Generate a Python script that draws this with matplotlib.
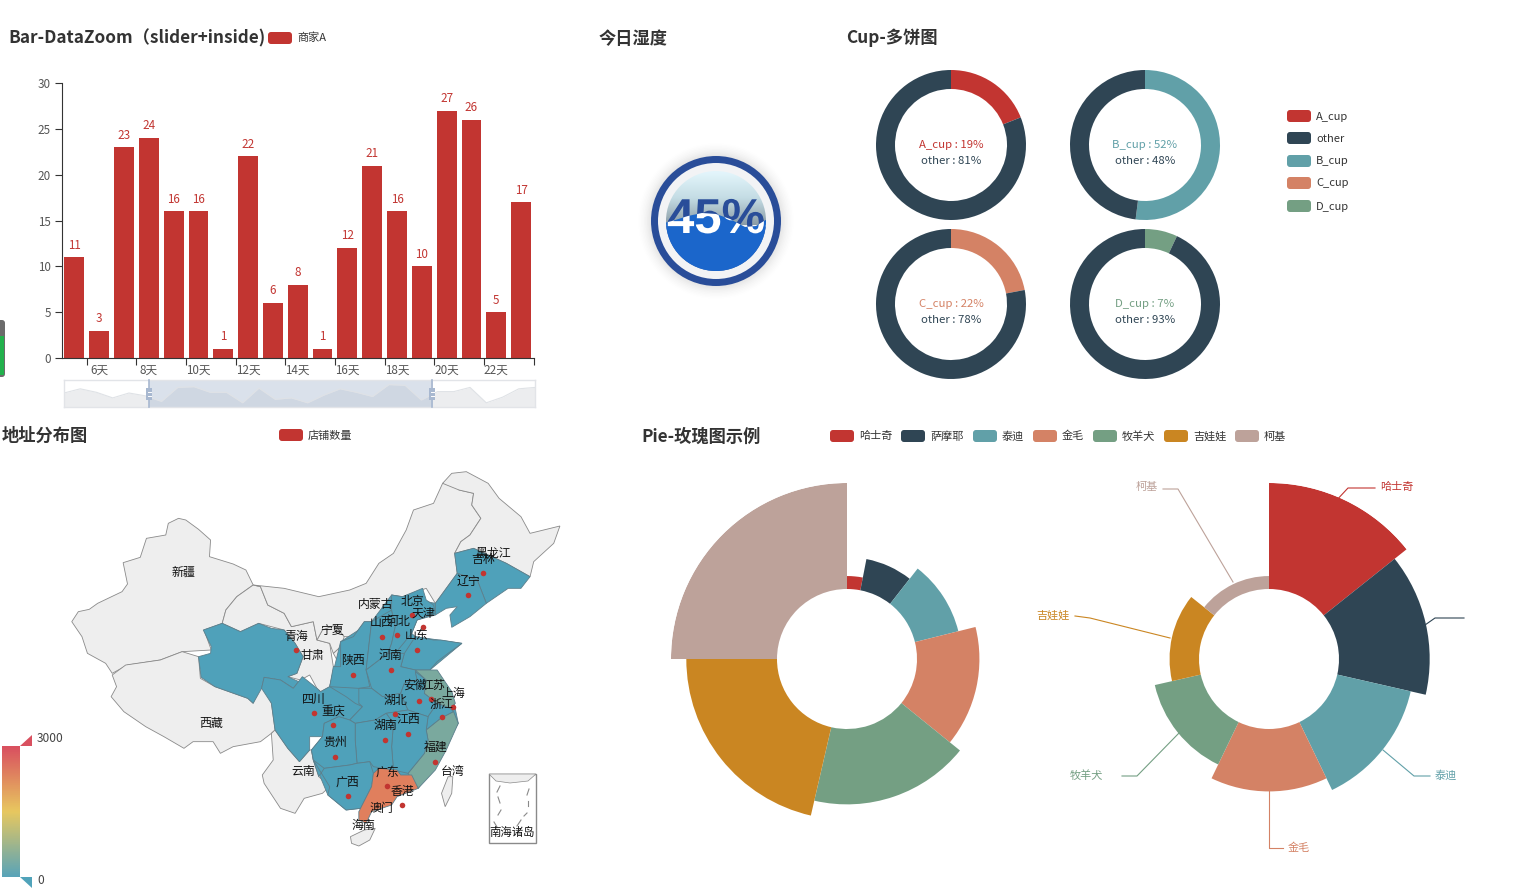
import numpy as np
import matplotlib
matplotlib.use("Agg")
import matplotlib.pyplot as plt
import matplotlib.patheffects as pe
from matplotlib.patches import Circle, Polygon, Rectangle, FancyBboxPatch
from matplotlib.colors import LinearSegmentedColormap

plt.rcParams['font.family'] = ['Noto Sans CJK SC', 'DejaVu Sans']

W, H = 1513, 894

# ---- data ----
COLORS = ["#c23531", "#2f4554", "#61a0a8", "#d48265", "#749f83", "#ca8622", "#bda29a"]

days = list(range(30))
shop_a = [15, 21, 16, 8, 15, 11, 3, 23, 24, 16, 16, 1, 22, 6, 8, 1, 12, 21, 16, 10,
          27, 26, 5, 17, 17, 23, 1, 9, 21, 23]
win_start, win_end = 5, 23

cup_names = ["A_cup", "B_cup", "C_cup", "D_cup"]
cup_values = [19, 52, 22, 7]

dog_names = ["哈士奇", "萨摩耶", "泰迪", "金毛", "牧羊犬", "吉娃娃", "柯基"]
rose_left = [11, 27, 38, 53, 64, 77, 90]
rose_right = [90, 77, 64, 53, 40, 25, 11]

humidity = 45

province_dots = [(1326, 400), (1285, 466), (1131, 525), (1160, 562), (1048, 591), (1091, 586),
                 (1145, 629), (813, 631), (969, 706), (1072, 690), (1150, 782), (1183, 776),
                 (1243, 802), (1214, 832), (863, 820), (915, 856), (1085, 822), (1057, 899),
                 (1120, 883), (1195, 966), (920, 950), (955, 1069), (1063, 1037), (1104, 1096)]

province_labels = {"黑龙江": (1355, 340), "吉林": (1325, 360), "辽宁": (1285, 425), "内蒙古": (1030, 493),
                   "北京": (1132, 483), "天津": (1162, 518), "河北": (1093, 543), "山西": (1048, 548),
                   "山东": (1145, 585), "宁夏": (912, 570), "青海": (812, 588), "甘肃": (858, 647),
                   "陕西": (970, 662), "河南": (1072, 647), "安徽": (1140, 737), "江苏": (1190, 737),
                   "上海": (1245, 760), "浙江": (1212, 792), "湖北": (1085, 780), "四川": (862, 777),
                   "重庆": (915, 813), "江西": (1120, 840), "湖南": (1057, 855), "贵州": (920, 908),
                   "福建": (1195, 923), "云南": (833, 995), "广东": (1063, 996), "广西": (955, 1027),
                   "香港": (1105, 1053), "澳门": (1048, 1106), "海南": (998, 1156), "台湾": (1243, 996),
                   "新疆": (503, 398), "西藏": (580, 850)}

# province outlines, rough
GRAY, BLUE, GREEN, ORANGE = "#eeeeee", "#4fa1ba", "#7aa99e", "#e07f5d"
blue_backing = [(905,740),(935,605),(1020,545),(1075,465),(1195,490),(1195,525),(1145,540),(1130,580),(1140,590),
                (1268,610),(1180,690),(1240,755),(1258,850),(1148,1045),(1025,1000),(990,1105),(950,1110),(900,1065),
                (860,960),(855,930),(885,890),(890,850)]
provinces = [
    (GRAY, [(197,545),(215,515),(245,508),(268,490),(335,455),(350,432),(338,368),(385,352),(402,295),(455,285),
            (462,250),(490,235),(510,240),(545,268),(578,300),(575,350),(640,372),(675,390),(695,435),(650,470),
            (620,510),(610,550),(560,570),(580,630),(500,635),(440,660),(350,675),(308,700),(290,670),(240,640),(225,590)]),
    (GRAY, [(308,705),(345,675),(440,660),(500,635),(545,650),(550,715),(590,740),(680,775),(695,790),(720,710),
            (745,790),(755,870),(745,880),(715,905),(640,920),(605,940),(585,905),(530,905),(505,925),(450,890),
            (400,860),(340,815),(305,770),(320,740)]),
    # gansu
    (GRAY, [(610,550),(620,510),(650,470),(695,435),(715,440),(735,495),(780,520),(800,560),(860,545),(870,600),
            (905,610),(915,680),(935,680),(915,640),(935,620),(960,650),(915,690),(905,740),(880,755),(870,745),
            (850,705),(825,720),(790,710),(815,700),(832,650),(810,610),(780,570),(710,550),(660,575)]),
    # ningxia
    (GRAY, [(870,600),(885,570),(920,555),(945,590),(935,620),(915,640),(905,610)]),
    # inner mongolia
    (GRAY, [(695,435),(780,445),(875,470),(960,450),(1005,430),(1040,370),(1080,340),(1115,270),(1135,210),(1190,190),
            (1215,130),(1240,120),(1260,150),(1300,160),(1295,195),(1320,235),(1290,285),(1265,305),(1248,340),(1255,400),
            (1195,490),(1170,445),(1105,470),(1075,465),(1075,510),(1020,545),(1000,545),(970,590),(945,590),(920,555),
            (885,570),(870,600),(860,545),(800,560),(780,520),(735,495),(715,440)]),
    # heilongjiang
    (GRAY, [(1215,130),(1240,100),(1280,95),(1340,130),(1370,175),(1430,230),(1455,280),(1537,258),(1520,310),(1465,365),
            (1455,410),(1390,370),(1340,345),(1300,325),(1248,340),(1265,305),(1290,285),(1320,235),(1295,195),(1300,160),(1260,150)]),
    # yunnan
    (GRAY, [(745,880),(755,870),(790,925),(822,965),(850,930),(855,930),(860,960),(875,1010),(905,1040),(885,1060),
            (835,1075),(810,1120),(770,1105),(725,1030),(720,1005),(750,960)]),
    # hainan, taiwan
    (GRAY, [(962,1190),(1000,1170),(1030,1165),(1015,1200),(985,1218),(965,1210)]),
    (GRAY, [(1230,1010),(1243,1010),(1240,1060),(1222,1100),(1212,1060)]),
    (BLUE, blue_backing),
    # qinghai
    (BLUE, [(558,570),(610,550),(660,575),(710,550),(745,565),(780,570),(810,610),(832,650),(815,700),(790,710),
            (820,725),(805,745),(770,720),(725,712),(718,745),(695,790),(680,775),(590,740),(552,712),(545,650),(578,640),(580,620)]),
    # sichuan
    (BLUE, [(725,712),(770,720),(805,745),(830,710),(870,745),(880,755),(905,740),(950,770),(975,790),(995,800),
            (960,840),(930,830),(890,850),(885,890),(850,890),(850,930),(822,965),(790,925),(755,870),(745,790),(718,745)]),
    # shaanxi, shanxi, hebei, shandong, henan
    (BLUE, [(915,680),(935,680),(935,605),(970,590),(1000,545),(1020,545),(1005,690),(1015,740),(985,745),(905,740)]),
    (BLUE, [(1020,545),(1075,510),(1085,560),(1075,610),(1065,640),(1005,690)]),
    (BLUE, [(1075,465),(1105,470),(1160,445),(1170,480),(1190,495),(1195,520),(1145,540),(1130,580),(1085,640),(1065,640),(1075,610),(1085,560),(1075,510)]),
    (BLUE, [(1110,640),(1140,590),(1190,600),(1210,600),(1268,610),(1230,640),(1200,665),(1180,690),(1140,690),(1100,680)]),
    (BLUE, [(1005,690),(1065,640),(1110,640),(1100,680),(1140,690),(1145,720),(1110,730),(1100,760),(1050,770),(1020,745)]),
    # hubei, anhui
    (BLUE, [(985,790),(985,745),(1020,745),(1050,770),(1100,760),(1120,810),(1060,820),(1030,840),(975,850),(960,840),(995,800)]),
    (BLUE, [(1110,730),(1145,720),(1140,695),(1170,720),(1165,760),(1200,790),(1175,830),(1120,810),(1100,760)]),
    # jiangsu, zhejiang, fujian
    (GREEN, [(1140,690),(1180,690),(1200,690),(1240,755),(1250,790),(1235,805),(1200,790),(1165,760),(1170,720)]),
    (BLUE, [(1175,830),(1200,790),(1235,805),(1245,815),(1210,835),(1170,870)]),
    (GREEN, [(1170,870),(1210,835),(1245,815),(1258,850),(1225,930),(1195,990),(1148,1045),(1120,1000),(1165,940),(1175,900)]),
    # jiangxi, hunan, guizhou, guangxi
    (BLUE, [(1120,810),(1175,830),(1170,870),(1175,900),(1165,940),(1120,1000),(1080,990),(1075,920),(1080,850),(1060,820)]),
    (BLUE, [(975,850),(1030,840),(1060,820),(1080,850),(1075,920),(1080,990),(1025,980),(1015,965),(980,970),(975,900)]),
    (BLUE, [(855,930),(885,890),(890,850),(930,830),(960,840),(975,850),(975,900),(980,970),(960,975),(890,985),(860,960)]),
    (BLUE, [(860,960),(875,1010),(890,985),(960,975),(980,970),(1015,965),(1025,1000),(1020,1040),(990,1105),(950,1110),(900,1065),(905,1040)]),
    # jilin, liaoning
    (BLUE, [(1248,340),(1300,325),(1340,345),(1390,370),(1455,410),(1430,445),(1395,445),(1335,490),(1310,420),(1255,400)]),
    (BLUE, [(1195,490),(1255,400),(1310,420),(1335,490),(1290,530),(1240,562),(1235,525),(1255,500),(1225,505),(1195,525)]),
    # guangdong
    (ORANGE, [(1025,1000),(1040,985),(1090,990),(1100,1005),(1130,1005),(1148,1045),(1090,1070),(1075,1095),(1020,1115),
              (1005,1150),(985,1140),(985,1115),(1020,1040)]),
]


def mx(zx):
    return zx / 2.745


def my(zy):
    return 440 + zy / 3


def axes_px(x0, y0, x1, y1, **kw):
    return fig.add_axes([x0 / W, 1 - y1 / H, (x1 - x0) / W, (y1 - y0) / H], **kw)


def legend_item(x, y, color, label):
    ov.add_patch(FancyBboxPatch((x, y - 6), 24, 12, boxstyle="round,pad=0,rounding_size=3", fc=color, ec="none"))
    ov.text(x + 29, y + 3.5, label, fontsize=8, color="#333333", va="baseline", ha="left")


def gauge_text(color, zorder, clip):
    # Normal path effect makes the text go through draw_path, which honours the clip path
    t = ov.text(cx, 233, f"{humidity}%", fontsize=35.3, fontweight="bold", family="Liberation Sans",
                color=color, ha="center", va="baseline", zorder=zorder)
    t.set_path_effects([pe.Normal()])
    t.set_clip_on(True)
    t.set_clip_path(clip)
    return t


fig = plt.figure(figsize=(W / 100, H / 100), dpi=100, facecolor="white")

# overlay in pixel coords, for titles, legends, map and the liquid gauge
ov = fig.add_axes([0, 0, 1, 1], zorder=5)
ov.set_xlim(0, W)
ov.set_ylim(H, 0)
ov.axis("off")
ov.patch.set_alpha(0)

for x, y, s in [(8, 38, "Bar-DataZoom（slider+inside)"), (599, 39, "今日湿度"), (846, 38, "Cup-多饼图"),
                (2, 436, "地址分布图"), (641, 437, "Pie-玫瑰图示例")]:
    ov.text(x, y, s, fontsize=12.4, fontweight="bold", color="#333333", va="center", ha="left")

legend_item(268, 38, COLORS[0], "商家A")
legend_item(279, 435, COLORS[0], "店铺数量")

# ---- bar chart ----
ax = axes_px(62, 83, 533.5, 358)
visible_days = days[win_start:win_end + 1]
visible = shop_a[win_start:win_end + 1]
bars = ax.bar(visible_days, visible, width=0.8, color=COLORS[0])
ax.bar_label(bars, padding=4, fontsize=8.4, color=COLORS[0])
ax.set_xlim(win_start - 0.5, win_end + 0.5)
ax.set_ylim(0, 30)
ax.spines[["top", "right"]].set_visible(False)
ax.spines["left"].set_color("#333333")
ax.spines["bottom"].set_color("#333333")
ax.set_yticks(range(0, 31, 5))
ax.tick_params(axis="y", labelsize=8.4, labelcolor="#555555", length=5, width=0.8, color="#333333", pad=3)
ax.set_xticks([d - 0.5 for d in visible_days[1::2]] + [win_end + 0.5])
ax.set_xticklabels([])
ax.tick_params(axis="x", length=5, width=0.8, color="#333333")
for d in visible_days[1::2]:
    ax.annotate(f"{d}天", (d, 0), xytext=(0, -9), textcoords="offset points", ha="center", va="center",
                fontsize=8.4, color="#555555", annotation_clip=False)

# ---- slider ----
sl = axes_px(64, 380, 535, 407)
sl.fill_between(days, shop_a, -5, color="#ecedef", lw=0)
sl.plot(days, shop_a, color="#dfe2e6", lw=0.8)
sl.axvspan(days[win_start] + 0.22, days[win_end] - 0.3, color="#a9b9d0", alpha=0.42, lw=0)
sl.set_xlim(days[0], days[-1])
sl.set_ylim(-5, 33.6)
sl.set_xticks([])
sl.set_yticks([])
for s in sl.spines.values():
    s.set_color("#e2e4e8")
    s.set_linewidth(1)
for x in (149, 432):
    ov.plot([x, x], [380, 407], color="#a8b8d0", lw=1.2)
    ov.add_patch(Rectangle((x - 3, 388), 6, 12, fc="#a8b8d0", ec="none"))
    ov.plot([x - 1.5, x + 1.5], [392, 392], color="white", lw=0.7)
    ov.plot([x - 1.5, x + 1.5], [396, 396], color="white", lw=0.7)

# scrollbar stub on left edge
ov.add_patch(FancyBboxPatch((-6, 320), 11, 57, boxstyle="round,pad=0,rounding_size=3", fc="#6b6b6b", ec="none"))
ov.add_patch(Rectangle((0, 336), 4, 39, fc="#22b14c", ec="none"))

# ---- liquid gauge ----
cx, cy = 716, 221
for r, a in zip(np.arange(78, 65, -1.5), np.linspace(0.004, 0.025, 9)):
    ov.add_patch(Circle((cx, cy), r, fc="#555555", ec="none", alpha=a))
ov.add_patch(Circle((cx, cy), 65, fc="#294d99", ec="none"))
ov.add_patch(Circle((cx, cy), 58, fc="#f2f3f5", ec="none"))
inner = Circle((cx, cy), 50, fc="none", ec="none")
ov.add_patch(inner)
sky = LinearSegmentedColormap.from_list("sky", ["#e4f6fc", "#c4dce4", "#8b9ca6"])
im = ov.imshow(np.linspace(0, 1, 64).reshape(-1, 1), cmap=sky, extent=(cx - 50, cx + 50, 225, 171),
               aspect="auto", zorder=2)
im.set_clip_path(inner)
ov.set_xlim(0, W)
ov.set_ylim(H, 0)
gauge_text("#294d99", 3, inner)
wave2 = Polygon([(660, 226), (680, 224), (695, 222), (715, 224), (735, 228), (745, 235), (758, 232), (772, 222), (772, 280), (660, 280)],
                fc="#2a5aa8", ec="none", zorder=4)
ov.add_patch(wave2)
wave2.set_clip_path(inner)
wave = Polygon([(660, 224), (672, 221), (688, 216), (702, 213), (716, 214), (730, 219), (745, 227), (756, 226), (772, 216), (772, 280), (660, 280)],
               fc="#1b66cb", ec="none", zorder=5)
ov.add_patch(wave)
wave.set_clip_path(inner)
gauge_text("white", 6, wave)

# ---- cup donuts ----
centers = [(951, 145), (1145, 145), (951, 304), (1145, 304)]
for i, (name, val, (x, y)) in enumerate(zip(cup_names, cup_values, centers)):
    a = axes_px(x - 76, y - 76, x + 76, y + 76)
    a.pie([val, 100 - val], colors=[COLORS[[0, 2, 3, 4][i]], COLORS[1]], startangle=90, counterclock=False,
          radius=75 / 76, wedgeprops=dict(width=19 / 76, lw=0))
    a.set_xlim(-1, 1)
    a.set_ylim(-1, 1)
    col = COLORS[[0, 2, 3, 4][i]]
    ov.text(x, y, f"{name} : {val}%", fontsize=8.2, color=col, ha="center", va="center")
    ov.text(x, y + 16, f"other : {100 - val}%", fontsize=8.2, color=COLORS[1], ha="center", va="center")

for y, col, lab in zip([116, 138, 161, 183, 206], [COLORS[0], COLORS[1], COLORS[2], COLORS[3], COLORS[4]],
                       ["A_cup", "other", "B_cup", "C_cup", "D_cup"]):
    legend_item(1287, y, col, lab)

# ---- rose charts ----
R0, R1 = 70, 176


def rose(cx_, cy_, values, equal_angle):
    a = axes_px(cx_ - R1, cy_ - R1, cx_ + R1, cy_ + R1, projection="polar")
    a.set_theta_zero_location("N")
    a.set_theta_direction(-1)
    vals = np.array(values, dtype=float)
    if equal_angle:
        widths = np.full(len(vals), 2 * np.pi / len(vals))
    else:
        widths = vals / vals.sum() * 2 * np.pi
    starts = np.concatenate([[0], np.cumsum(widths)[:-1]])
    heights = (R1 - R0) * vals / vals.max()
    a.bar(starts, heights, width=widths, bottom=R0, align="edge", color=COLORS[:len(vals)], lw=0)
    a.set_ylim(0, R1)
    a.axis("off")


rose(847, 659, rose_left, False)
rose(1269, 659, rose_right, True)

for x, col, lab in zip([830, 901, 973, 1033, 1093, 1164, 1235], COLORS, dog_names):
    legend_item(x, 436, col, lab)

# leader lines of the right rose chart
leaders = [([(1334, 503), (1348, 488), (1375, 488)], (1380, 487), "left", "哈士奇", 0),
           ([(1425, 625), (1435, 618), (1464, 618)], None, "left", "", 1),
           ([(1383, 750), (1414, 776), (1430, 776)], (1435, 776), "left", "泰迪", 2),
           ([(1269, 790), (1269, 848), (1283, 848)], (1288, 848), "left", "金毛", 3),
           ([(1180, 732), (1137, 776), (1122, 776)], (1103, 776), "right", "牧羊犬", 4),
           ([(1170, 638), (1090, 618), (1075, 616)], (1070, 616), "right", "吉娃娃", 5),
           ([(1233, 582), (1178, 489), (1163, 489)], (1158, 487), "right", "柯基", 6)]
for pts, tp, ha, lab, ci in leaders:
    ov.plot([p[0] for p in pts], [p[1] for p in pts], color=COLORS[ci], lw=0.8)
    if tp:
        ov.text(tp[0], tp[1], lab, color=COLORS[ci], fontsize=8, ha=ha, va="center")

# ---- map ----
for col, pts in provinces:
    edge = "#8a8a8a" if col == GRAY else "#5c7f8c"
    ov.add_patch(Polygon([(mx(px), my(py)) for px, py in pts], closed=True, fc=col, ec=edge, lw=0.6, zorder=2))
ov.scatter([mx(p[0]) for p in province_dots], [my(p[1]) for p in province_dots], s=16, color=COLORS[0], zorder=3, lw=0)
for name, (px, py) in province_labels.items():
    ov.text(mx(px), my(py), name, fontsize=8.6, color="#111111", ha="center", va="center", zorder=4)

# south china sea inset
ov.add_patch(Rectangle((489, 774), 47, 69, fc="white", ec="#8a8a8a", lw=1, zorder=2))
ov.add_patch(Polygon([(489, 774), (536, 774), (528, 781), (510, 783), (496, 781)], fc=GRAY, ec="#8a8a8a", lw=0.5, zorder=2))
for seg in [((500, 786), (497, 792)), ((498, 797), (500, 803)), ((501, 810), (498, 815)),
            ((529, 789), (527, 795)), ((528, 801), (528, 806)), ((527, 813), (524, 816)),
            ((521, 820), (517, 826)), ((494, 822), (497, 827))]:
    ov.plot([seg[0][0], seg[1][0]], [seg[0][1], seg[1][1]], color="#8a8a8a", lw=0.8, zorder=3)
ov.text(512, 832, "南海诸岛", fontsize=8.2, color="#111111", ha="center", va="center", zorder=4)

# ---- visual map ----
vm_cmap = LinearSegmentedColormap.from_list("vm", ["#5aa4b8", "#e8c85f", "#d9505f"])
ov.imshow(np.linspace(1, 0, 64).reshape(-1, 1), cmap=vm_cmap, extent=(2, 20, 877, 746), aspect="auto", zorder=2)
ov.set_xlim(0, W)
ov.set_ylim(H, 0)
ov.add_patch(Polygon([(20, 746), (32, 735), (32, 746)], fc="#d9505f", ec="none"))
ov.add_patch(Polygon([(20, 877), (32, 888), (32, 877)], fc="#50a3ba", ec="none"))
ov.text(37, 739, "3000", fontsize=8.6, color="#444444", ha="left", va="center")
ov.text(37, 881, "0", fontsize=8.6, color="#444444", ha="left", va="center")

fig.savefig("out.png", dpi=100)
